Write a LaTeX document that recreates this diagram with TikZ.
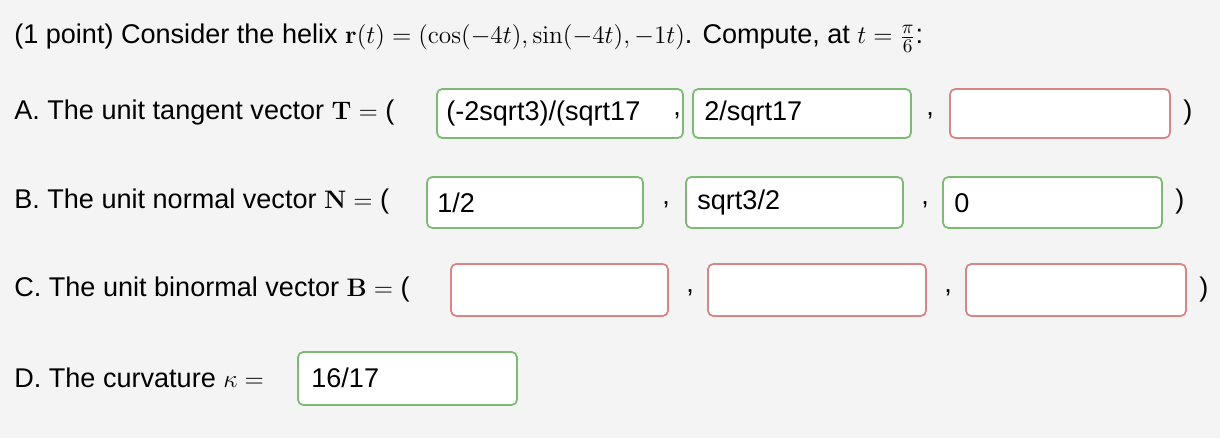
\documentclass[tikz,border=0pt]{standalone}
\usepackage{amsmath}
\usepackage[no-math]{fontspec}
\setmainfont{Liberation Sans}
\usetikzlibrary{positioning}
\definecolor{bg}{HTML}{F4F4F4}
\definecolor{okline}{HTML}{7DBB75}
\definecolor{badline}{HTML}{D98585}
\tikzset{
  txt/.style={anchor=west, inner sep=0pt, font=\fontsize{15.4}{18}\selectfont},
  field/.style={draw=okline, line width=1pt, fill=white, rounded corners=3pt},
  bad/.style={field, draw=badline},
  entry/.style={anchor=west, inner sep=0pt, font=\fontsize{15.4}{18}\selectfont}
}
\begin{document}
\begin{tikzpicture}[x=0.02cm, y=-0.02cm]
  \fill[bg] (0,0) rectangle (1220,438);
  \useasboundingbox (0,0) rectangle (1220,438);
  % header
  \node[txt] (head) at (14,38) {(1 point) Consider the helix $\mathbf{r}(t)=(\cos(-4t),\sin(-4t),-1t)$. Compute, at $t=\frac{\pi}{6}$:};
  % row A
  \node[txt] (labA) at (14,113) {A. The unit tangent vector $\mathbf{T}=$ (};
  \draw[field] (437,89) rectangle (683,138);
  \begin{scope}
    \clip (437,89) rectangle (658,138);
    \node[entry] (valA1) at (446,114) {(-2sqrt3)/(sqrt17};
  \end{scope}
  \node[txt] (cA1) at (673,116) {,};
  \draw[field] (693,89) rectangle (911,138);
  \node[entry] (valA2) at (704,114) {2/sqrt17};
  \node[txt] (cA2) at (926,116) {,};
  \draw[bad] (950,89) rectangle (1170,138);
  \node[txt] (pA) at (1183,113) {)};
  % row B
  \node[txt] (labB) at (14,202) {B. The unit normal vector $\mathbf{N}=$ (};
  \draw[field] (427,177) rectangle (643,228);
  \node[entry] (valB1) at (437,203) {1/2};
  \node[txt] (cB1) at (662,205) {,};
  \draw[field] (686,177) rectangle (903,228);
  \node[entry] (valB2) at (697,203) {sqrt3/2};
  \node[txt] (cB2) at (921,205) {,};
  \draw[field] (943,177) rectangle (1162,228);
  \node[entry] (valB3) at (954,203) {0};
  \node[txt] (pB) at (1175,202) {)};
  % row C
  \node[txt] (labC) at (14,290) {C. The unit binormal vector $\mathbf{B}=$ (};
  \draw[bad] (451,264) rectangle (668,316);
  \node[txt] (cC1) at (686,293) {,};
  \draw[bad] (708,264) rectangle (926,316);
  \node[txt] (cC2) at (944,293) {,};
  \draw[bad] (966,264) rectangle (1186,316);
  \node[txt] (pC) at (1199,290) {)};
  % row D
  \node[txt] (labD) at (14,378) {D. The curvature $\kappa=$};
  \draw[field] (298,352) rectangle (517,405);
  \node[entry] (valD) at (311,378) {16/17};
\end{tikzpicture}
\end{document}
